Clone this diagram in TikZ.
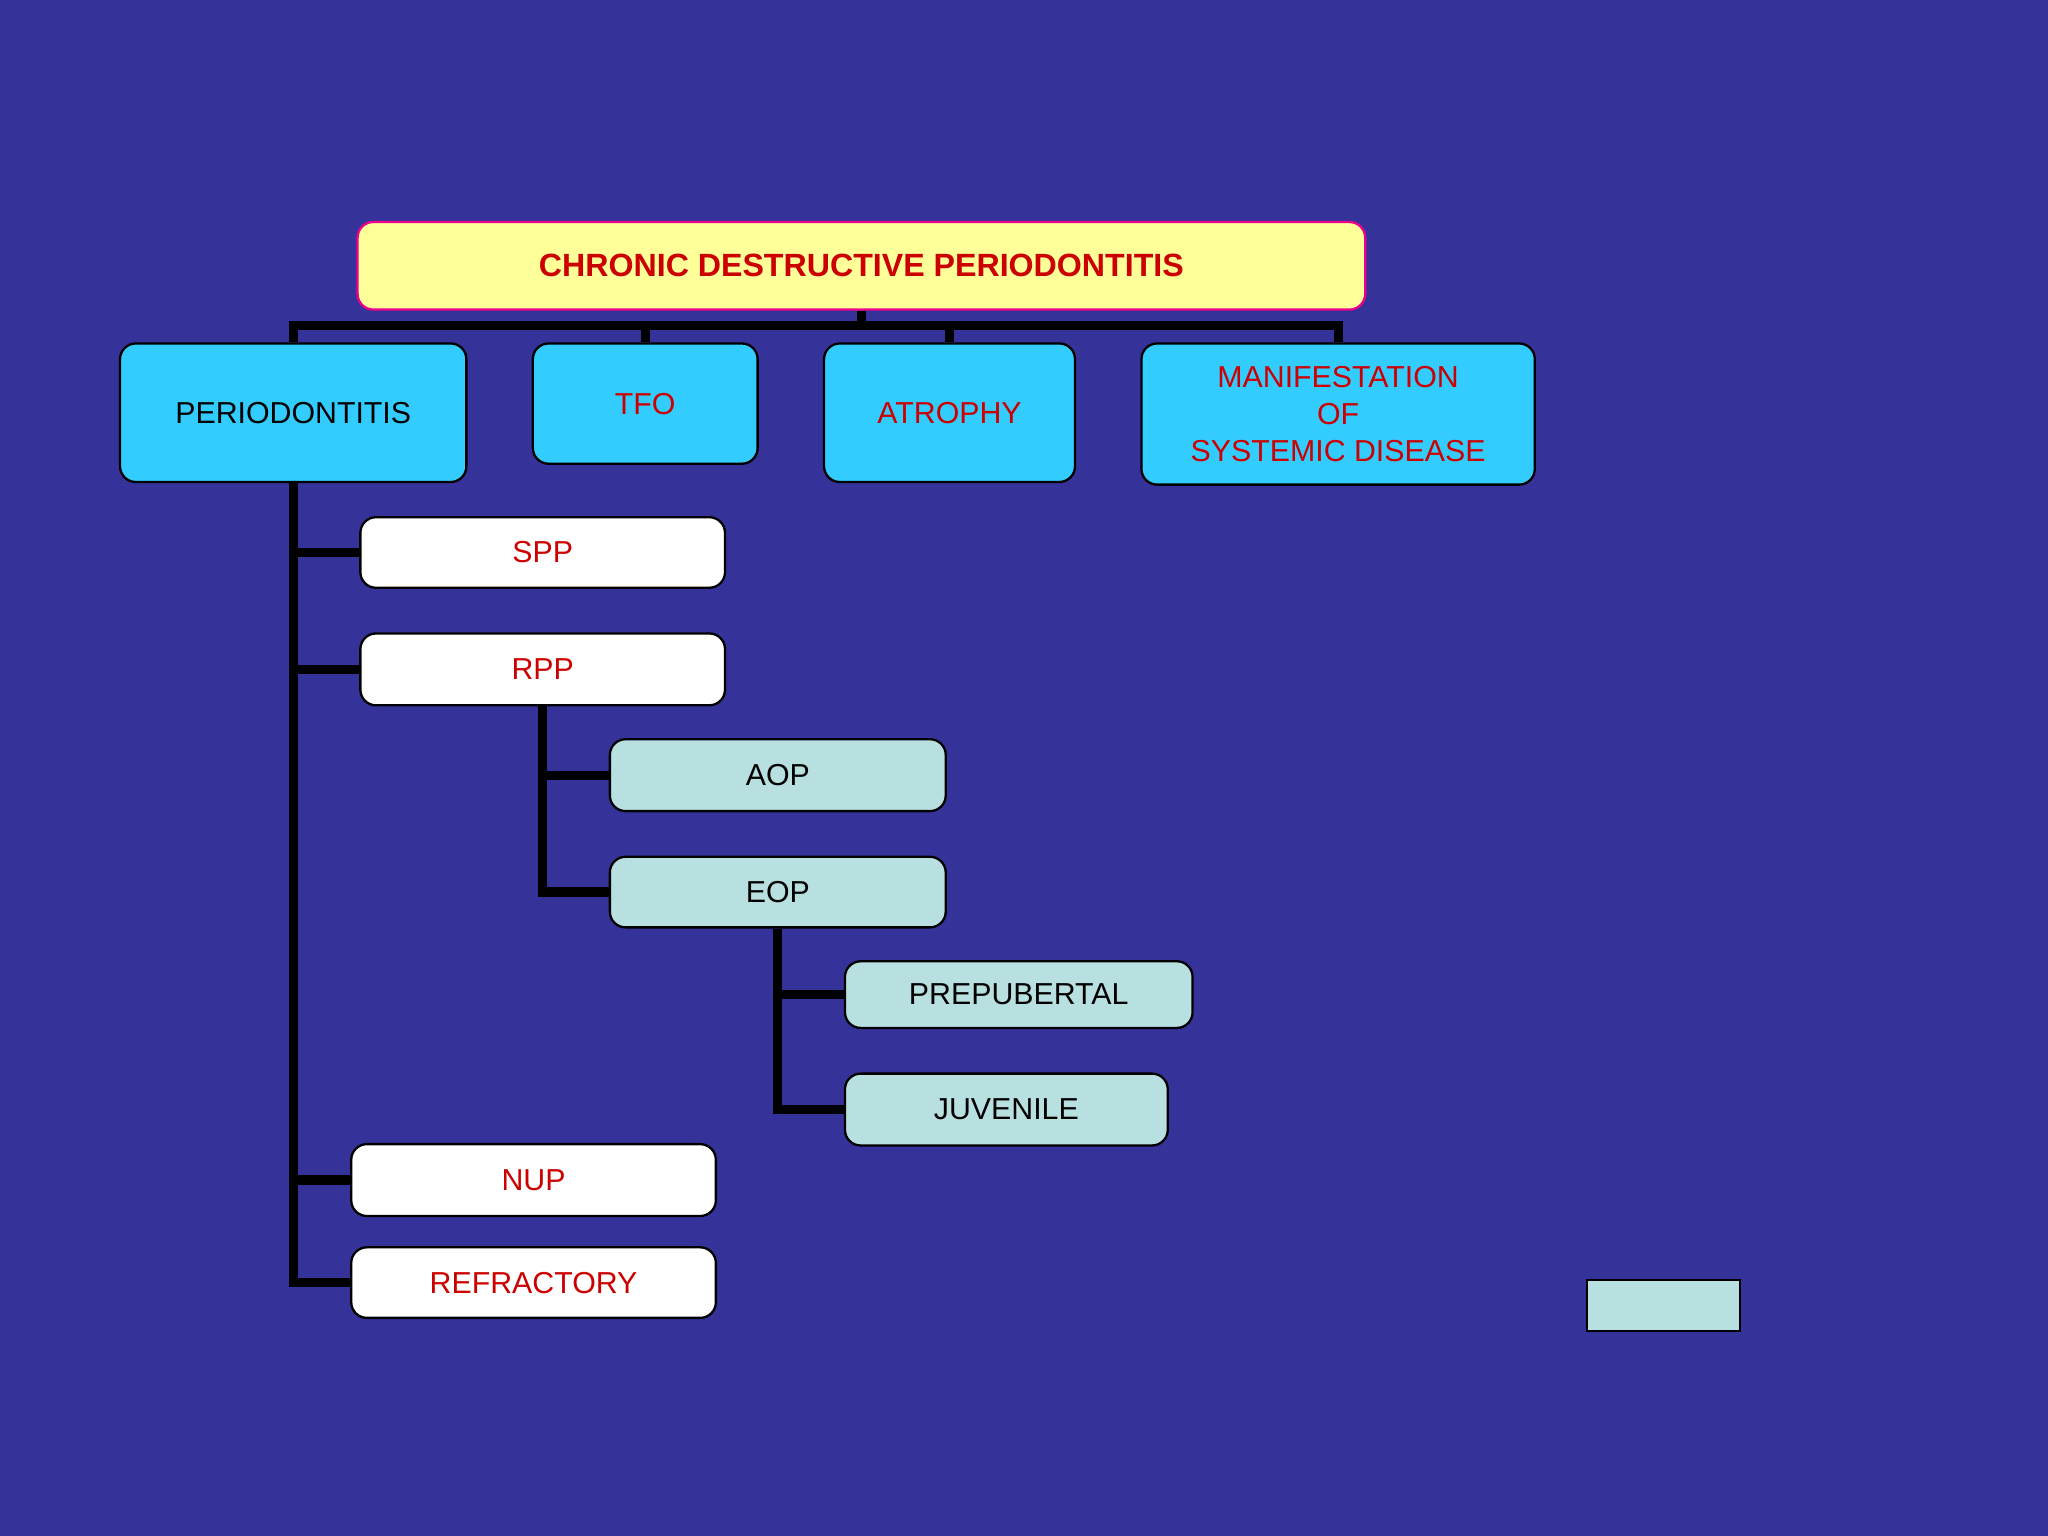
\documentclass[tikz,border=0pt]{standalone}
\usepackage{fontspec}
\setmainfont{Liberation Sans}
\begin{document}
\begin{tikzpicture}[x=0.01cm,y=-0.01cm,
  base/.style={draw=black, rounded corners=0.12cm, inner sep=0pt, font=\fontsize{6.6pt}{8pt}\selectfont, align=center, line width=0.5pt},
  cyanbox/.style={base, fill=cyan!70!blue!60},
  whitebox/.style={base, fill=white, text=red!80!black},
  tealbox/.style={base, fill={rgb,255:red,184;green,224;blue,224}, text=black},
  conn/.style={line width=2pt, draw=black}]
\definecolor{bg}{RGB}{53,51,153}
\definecolor{cy}{RGB}{51,204,255}
\definecolor{rd}{RGB}{204,0,0}
\fill[bg] (0,0) rectangle (1568,1176);
\useasboundingbox (0,0) rectangle (1568,1176);
\coordinate (bar) at (0,249);
\node[base, fill={rgb,255:red,255;green,255;blue,153}, draw=magenta, text=rd, font=\fontsize{7pt}{8pt}\selectfont\bfseries, minimum width=7.71cm, minimum height=0.67cm] (title) at (659.5,203.5) {CHRONIC DESTRUCTIVE PERIODONTITIS};
\node[base, fill=cy, minimum width=2.65cm, minimum height=1.06cm] (per) at (224.5,316) {PERIODONTITIS};
\node[base, fill=cy, text=rd, minimum width=1.72cm, minimum height=0.92cm] (tfo) at (494,309) {TFO};
\node[base, fill=cy, text=rd, minimum width=1.92cm, minimum height=1.06cm] (atr) at (727,316) {ATROPHY};
\node[base, fill=cy, text=rd, minimum width=3.01cm, minimum height=1.08cm] (man) at (1024.5,317) {MANIFESTATION\\OF\\SYSTEMIC DISEASE};
\node[whitebox, minimum width=2.79cm, minimum height=0.54cm] (spp) at (415.5,423) {SPP};
\node[whitebox, minimum width=2.79cm, minimum height=0.55cm] (rpp) at (415.5,512.5) {RPP};
\node[tealbox, minimum width=2.57cm, minimum height=0.55cm] (aop) at (595.5,593.5) {AOP};
\node[tealbox, minimum width=2.57cm, minimum height=0.54cm] (eop) at (595.5,683) {EOP};
\node[tealbox, minimum width=2.66cm, minimum height=0.51cm] (pre) at (780,761.5) {PREPUBERTAL};
\node[tealbox, minimum width=2.47cm, minimum height=0.55cm] (juv) at (770.5,849.5) {JUVENILE};
\node[whitebox, minimum width=2.79cm, minimum height=0.55cm] (nup) at (408.5,903.5) {NUP};
\node[whitebox, minimum width=2.79cm, minimum height=0.54cm] (ref) at (408.5,982) {REFRACTORY};
\node[draw=black, fill={rgb,255:red,184;green,224;blue,224}, minimum width=1.17cm, minimum height=0.39cm, inner sep=0pt] (small) at (1273.5,999.5) {};
\foreach \c in {per,tfo,atr,man}
  \draw[conn] (\c.north) -- (\c.north |- bar) -| (title.south);
\foreach \c in {spp,rpp,nup,ref}
  \draw[conn] (per.south) |- (\c.west);
\foreach \c in {aop,eop}
  \draw[conn] (rpp.south) |- (\c.west);
\foreach \c in {pre,juv}
  \draw[conn] (eop.south) |- (\c.west);
\end{tikzpicture}
\end{document}
